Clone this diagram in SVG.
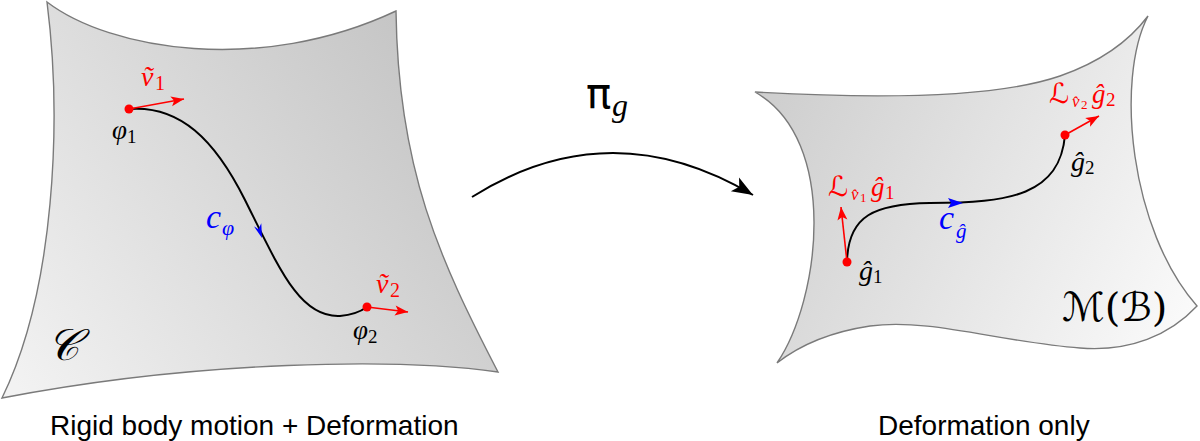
<svg xmlns="http://www.w3.org/2000/svg" width="1200" height="441" viewBox="0 0 1200 441">
<style>
.surf{stroke:#7a7a7a;stroke-width:1.4}
.curve{fill:none;stroke:#000;stroke-width:2}
.red{fill:none;stroke:#ff0000;stroke-width:1.6}
.dot{fill:#ff0000}
.mi{font-family:"Liberation Serif",serif;font-style:italic}
.up{font-family:"Liberation Serif",serif}
.phi{font-family:"Liberation Serif",serif;font-style:italic}
.scr{font-family:"DejaVu Serif","DejaVu Sans",serif}
.cap{font-family:"Liberation Sans",Arial,sans-serif;font-size:28px;fill:#000}
.r{fill:#ff0000}.b{fill:#0000ff}.k{fill:#000}
</style>
<defs>
<linearGradient id="gL" x1="20" y1="390" x2="480" y2="60" gradientUnits="userSpaceOnUse">
<stop offset="0" stop-color="#f2f2f2"/><stop offset="1" stop-color="#c2c2c2"/>
</linearGradient>
<linearGradient id="gR" x1="770" y1="110" x2="1190" y2="320" gradientUnits="userSpaceOnUse">
<stop offset="0" stop-color="#cfcfcf"/><stop offset="1" stop-color="#fafafa"/>
</linearGradient>
<marker id="ar" markerUnits="userSpaceOnUse" markerWidth="16" markerHeight="12" viewBox="0 0 16 12" refX="14" refY="6" orient="auto">
<path d="M14,6 L1,1 L4,6 L1,11 Z" fill="#ff0000"/>
</marker>
<marker id="ak" markerUnits="userSpaceOnUse" markerWidth="24" markerHeight="18" viewBox="0 0 24 18" refX="22" refY="9" orient="auto">
<path d="M22,9 L1,1 L6,9 L1,17 Z" fill="#000"/>
</marker>
</defs>

<g id="surface-C">
<path class="surf" fill="url(#gL)" d="M47,2 C110,50 260,75 396,11 C398,170 440,260 498,372 C400,358 200,360 2,398 C55,290 62,120 47,2 Z"/>
<text class="scr k" x="47" y="360" font-size="44" font-style="italic">𝒞</text>
</g>

<g id="surface-M">
<path class="surf" fill="url(#gR)" d="M755,92 C860,98 990,100 1060,76 C1100,62 1130,40 1148,16 C1115,80 1130,230 1197,306 C1170,335 1130,352 1080,348 C1000,342 930,318 870,326 C830,332 800,345 777,363 C820,300 840,140 755,92 Z"/>
<text class="scr k" x="1062" y="321" font-size="40">ℳ(ℬ)</text>
</g>

<g id="connectors">
<path class="curve" d="M129,109 C180,105 215,140 245,200 C280,270 300,318 340,316 C352,315 360,312 367,307"/>
<path d="M262,238 L253.9,226.3 L258.4,229.2 L261.3,223.3 Z" fill="#0000ff"/>
<path class="curve" d="M847,262 C848,215 875,204 930,203 C1010,203 1060,195 1065,135"/>
<path d="M963,203 L948,198 L951,203 L948,208 Z" fill="#0000ff"/>
<path class="red" d="M129,109 L184,99" marker-end="url(#ar)"/>
<path class="red" d="M367,307 L408,312" marker-end="url(#ar)"/>
<path class="red" d="M847,262 L841,207" marker-end="url(#ar)"/>
<path class="red" d="M1065,135 L1099,116" marker-end="url(#ar)"/>
<path d="M472,197 Q610,110 753,195" fill="none" stroke="#000" stroke-width="2" marker-end="url(#ak)"/>
</g>

<g id="node-phi1">
<circle class="dot" cx="129" cy="109" r="4.5"/>
<text class="mi r" x="141" y="86" font-size="28">ṽ</text>
<text class="up r" x="155" y="90" font-size="20">1</text>
<text class="phi k" x="112" y="139" font-size="27">φ</text>
<text class="up k" x="127" y="143" font-size="19">1</text>
</g>

<g id="node-phi2">
<circle class="dot" cx="367" cy="307" r="4.5"/>
<text class="mi r" x="376" y="293" font-size="28">ṽ</text>
<text class="up r" x="390" y="297" font-size="20">2</text>
<text class="phi k" x="353" y="339" font-size="27">φ</text>
<text class="up k" x="368" y="343" font-size="19">2</text>
</g>

<g id="label-cphi">
<text class="mi b" x="206" y="228" font-size="34">c</text>
<text class="phi b" x="222" y="235" font-size="22">φ</text>
</g>

<g id="label-pi">
<text font-family="DejaVu Sans,sans-serif" x="586" y="108" font-size="42" fill="#000">π</text>
<text class="mi k" x="612" y="116" font-size="32">g</text>
</g>

<g id="node-g1">
<circle class="dot" cx="847" cy="262" r="4.5"/>
<text class="mi k" x="859" y="280" font-size="28">ĝ</text>
<text class="up k" x="873" y="283" font-size="19">1</text>
<text class="scr r" x="828" y="196" font-size="28" font-style="italic">ℒ</text>
<text class="mi r" x="851" y="200" font-size="17">v̂</text>
<text class="up r" x="860" y="202" font-size="13">1</text>
<text class="mi r" x="871" y="196" font-size="27">ĝ</text>
<text class="up r" x="885" y="199" font-size="19">1</text>
</g>

<g id="node-g2">
<circle class="dot" cx="1065" cy="135" r="4.5"/>
<text class="mi k" x="1071" y="171" font-size="28">ĝ</text>
<text class="up k" x="1085" y="174" font-size="19">2</text>
<text class="scr r" x="1049" y="103" font-size="28" font-style="italic">ℒ</text>
<text class="mi r" x="1072" y="107" font-size="17">v̂</text>
<text class="up r" x="1081" y="109" font-size="13">2</text>
<text class="mi r" x="1092" y="103" font-size="27">ĝ</text>
<text class="up r" x="1106" y="106" font-size="19">2</text>
</g>

<g id="label-cg">
<text class="mi b" x="939" y="229" font-size="34">c</text>
<text class="mi b" x="956" y="238" font-size="21">ĝ</text>
</g>

<text class="cap" x="50" y="435">Rigid body motion + Deformation</text>
<text class="cap" x="878" y="435">Deformation only</text>
</svg>
